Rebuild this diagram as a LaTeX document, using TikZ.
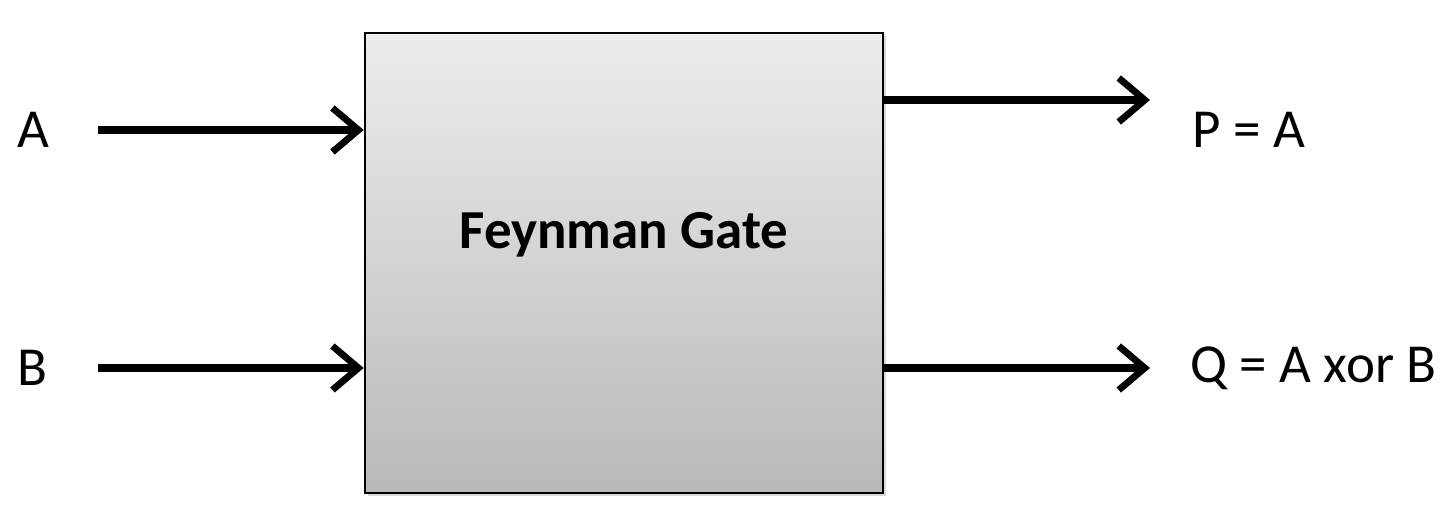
\documentclass[tikz,border=0pt]{standalone}
\usepackage{fontspec}
\setmainfont{Carlito}
\usetikzlibrary{arrows.meta,shadows}
\begin{document}
\begin{tikzpicture}[x=0.5pt,y=-0.5pt,
  arr/.style={line width=3.6pt,-{Straight Barb[length=13pt,width=22pt,line width=3.4pt]}},
  lbl/.style={font=\fontsize{27.5}{32}\selectfont,inner sep=0pt}]
\useasboundingbox (0,0) rectangle (1452,522);
\node[draw=black,line width=1.3pt,minimum width=259pt,minimum height=230pt,
  top color=gray!14,bottom color=gray!55,inner sep=0pt,
  drop shadow={shadow xshift=1.5pt,shadow yshift=-1.5pt,opacity=0.3}] (g) at (624,263) {};
\node[font=\bfseries\fontsize{27.5}{32}\selectfont] (t) at (624,235) {Feynman Gate};
\node[lbl,anchor=west] (a) at (17,130) {A};
\node[lbl,anchor=west] (b) at (17,368) {B};
\node[lbl,anchor=west] (p) at (1192,130) {P = A};
\node[lbl,anchor=west] (q) at (1190,368) {Q = A xor B};
\coordinate (a1) at (98,130); \coordinate (a2) at (g.west|-a1);
\coordinate (b1) at (98,368); \coordinate (b2) at (g.west|-b1);
\coordinate (p1) at (g.east|-0,100); \coordinate (p2) at (1150,100);
\coordinate (q1) at (g.east|-0,368); \coordinate (q2) at (1150,368);
\draw[arr] (a1) -- (a2);
\draw[arr] (b1) -- (b2);
\draw[arr] (p1) -- (p2);
\draw[arr] (q1) -- (q2);
\end{tikzpicture}
\end{document}
